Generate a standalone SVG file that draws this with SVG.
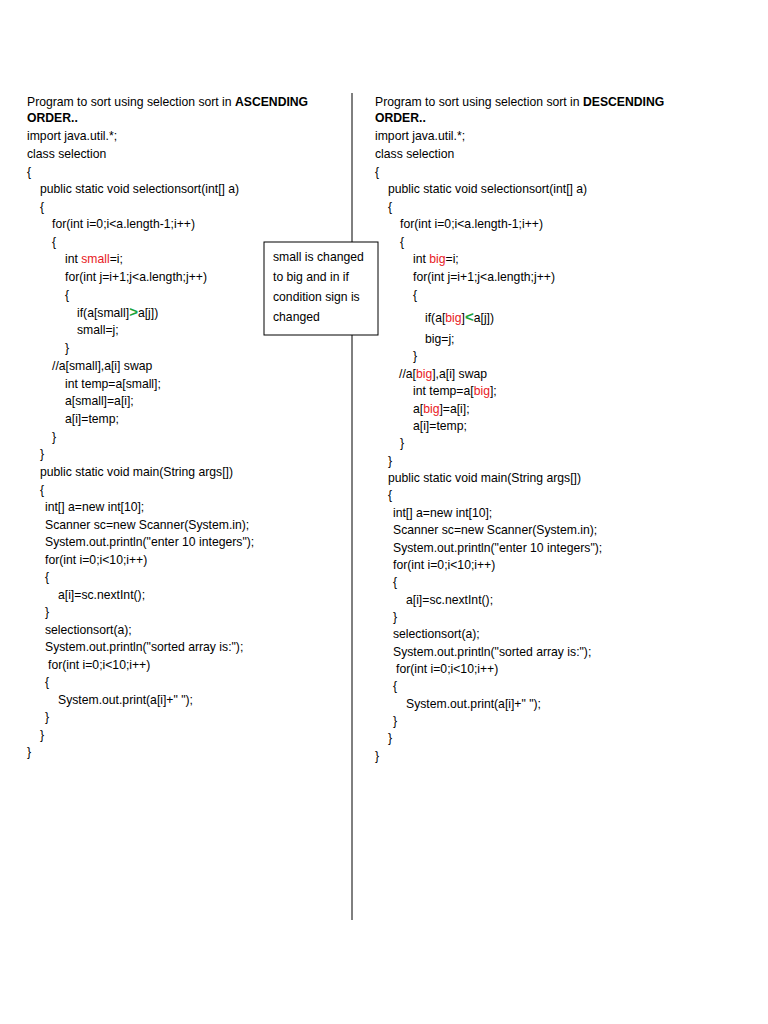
<svg xmlns="http://www.w3.org/2000/svg" width="768" height="1024" viewBox="0 0 768 1024">
<style>
text{font-family:"Liberation Sans",Arial,sans-serif;font-size:12.2px;fill:#000}
.b{font-weight:bold}.r{fill:#e8191e}.g{fill:#1aa33a;font-weight:bold;font-size:15px}
</style>
<rect width="768" height="1024" fill="#fff"/>
<line x1="352" y1="93" x2="352" y2="920" stroke="#000" stroke-width="1"/>
<g id="left">
<text x="27" y="106">Program to sort using selection sort in <tspan class="b">ASCENDING</tspan></text>
<text x="27" y="122" class="b">ORDER..</text>
<text x="27" y="140">import java.util.*;</text>
<text x="27" y="158">class selection</text>
<text x="27" y="176">{</text>
<text x="40" y="193">public static void selectionsort(int[] a)</text>
<text x="40" y="211">{</text>
<text x="52" y="228">for(int i=0;i&lt;a.length-1;i++)</text>
<text x="52" y="246">{</text>
<text x="65" y="263">int <tspan class="r">small</tspan>=i;</text>
<text x="65" y="281">for(int j=i+1;j&lt;a.length;j++)</text>
<text x="65" y="299">{</text>
<text x="77" y="317">if(a[small]<tspan class="g">&gt;</tspan>a[j])</text>
<text x="77" y="334">small=j;</text>
<text x="65" y="352">}</text>
<text x="52" y="370">//a[small],a[i] swap</text>
<text x="65" y="388">int temp=a[small];</text>
<text x="65" y="405">a[small]=a[i];</text>
<text x="65" y="423">a[i]=temp;</text>
<text x="52" y="441">}</text>
<text x="40" y="458">}</text>
<text x="40" y="476">public static void main(String args[])</text>
<text x="40" y="494">{</text>
<text x="45" y="511">int[] a=new int[10];</text>
<text x="45" y="529">Scanner sc=new Scanner(System.in);</text>
<text x="45" y="546">System.out.println("enter 10 integers");</text>
<text x="45" y="564">for(int i=0;i&lt;10;i++)</text>
<text x="45" y="581">{</text>
<text x="58" y="599">a[i]=sc.nextInt();</text>
<text x="45" y="616">}</text>
<text x="45" y="634">selectionsort(a);</text>
<text x="45" y="651">System.out.println("sorted array is:");</text>
<text x="48" y="669">for(int i=0;i&lt;10;i++)</text>
<text x="45" y="686">{</text>
<text x="58" y="704">System.out.print(a[i]+" ");</text>
<text x="45" y="721">}</text>
<text x="40" y="739">}</text>
<text x="27" y="756">}</text>
</g>
<g id="note">
<rect x="264" y="242" width="114" height="93" fill="#fff" stroke="#000" stroke-width="1"/>
<text x="273" y="261">small is changed</text>
<text x="273" y="281">to big and in if</text>
<text x="273" y="301">condition sign is</text>
<text x="273" y="321">changed</text>
</g>
<g id="right">
<text x="375" y="106">Program to sort using selection sort in <tspan class="b">DESCENDING</tspan></text>
<text x="375" y="122" class="b">ORDER..</text>
<text x="375" y="140">import java.util.*;</text>
<text x="375" y="158">class selection</text>
<text x="375" y="176">{</text>
<text x="388" y="193">public static void selectionsort(int[] a)</text>
<text x="388" y="211">{</text>
<text x="400" y="228">for(int i=0;i&lt;a.length-1;i++)</text>
<text x="400" y="246">{</text>
<text x="413" y="263">int <tspan class="r">big</tspan>=i;</text>
<text x="413" y="281">for(int j=i+1;j&lt;a.length;j++)</text>
<text x="413" y="299">{</text>
<text x="425" y="322">if(a[<tspan class="r">big</tspan>]<tspan class="g">&lt;</tspan>a[j])</text>
<text x="425" y="343">big=j;</text>
<text x="413" y="360">}</text>
<text x="399" y="378">//a[<tspan class="r">big</tspan>],a[i] swap</text>
<text x="413" y="395">int temp=a[<tspan class="r">big</tspan>];</text>
<text x="413" y="413">a[<tspan class="r">big</tspan>]=a[i];</text>
<text x="413" y="430">a[i]=temp;</text>
<text x="400" y="447">}</text>
<text x="388" y="465">}</text>
<text x="388" y="482">public static void main(String args[])</text>
<text x="388" y="499">{</text>
<text x="393" y="517">int[] a=new int[10];</text>
<text x="393" y="534">Scanner sc=new Scanner(System.in);</text>
<text x="393" y="552">System.out.println("enter 10 integers");</text>
<text x="393" y="569">for(int i=0;i&lt;10;i++)</text>
<text x="393" y="586">{</text>
<text x="406" y="604">a[i]=sc.nextInt();</text>
<text x="393" y="621">}</text>
<text x="393" y="638">selectionsort(a);</text>
<text x="393" y="656">System.out.println("sorted array is:");</text>
<text x="396" y="673">for(int i=0;i&lt;10;i++)</text>
<text x="393" y="690">{</text>
<text x="406" y="708">System.out.print(a[i]+" ");</text>
<text x="393" y="725">}</text>
<text x="388" y="742">}</text>
<text x="375" y="760">}</text>
</g>
</svg>
